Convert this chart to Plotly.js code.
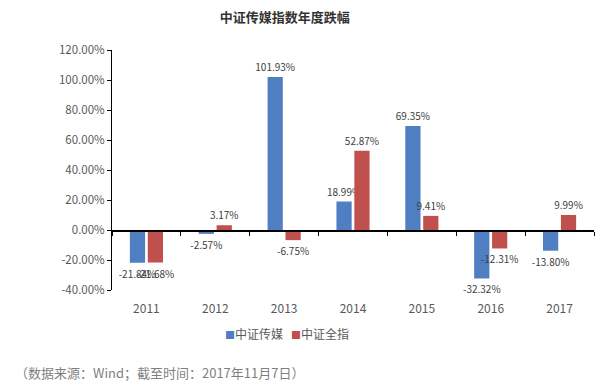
<!DOCTYPE html>
<html>
<head>
<meta charset="utf-8">
<script src="https://cdn.plot.ly/plotly-3.0.1.min.js"></script>
<style>html,body{margin:0;padding:0;background:#fff;}#chart{width:602px;height:391px;}</style>
</head>
<body>
<div id="chart"></div>
<script>
const years = ['2011','2012','2013','2014','2015','2016','2017'];
const mediaIndex = [-21.84, -2.57, 101.93, 18.99, 69.35, -32.32, -13.80];
const allIndex = [-21.68, 3.17, -6.75, 52.87, 9.41, -12.31, 9.99];
const seriesNames = ['中证传媒', '中证全指'];
const seriesColors = ['#4F7EC3', '#C0504D'];
const yTickVals = [-40, -20, 0, 20, 40, 60, 80, 100, 120];
const yTickText = yTickVals.map(v => v.toFixed(2) + '%');
const footnote = '（数据来源：Wind；截至时间：2017年11月7日）';
const chartTitle = '中证传媒指数年度跌幅';

const font = '"Microsoft YaHei", "Noto Sans CJK SC", sans-serif';
const fmt = arr => arr.map(v => v.toFixed(2) + '%');

const traces = [
  {type:'bar', x: years, y: mediaIndex, name: seriesNames[0], showlegend:false,
   marker:{color:seriesColors[0]}, text: fmt(mediaIndex), textposition:'outside', constraintext:'none',
   textfont:{size:10, color:'#404040', family:font}, cliponaxis:false, hoverinfo:'skip'},
  {type:'bar', x: years, y: allIndex, name: seriesNames[1], showlegend:false,
   marker:{color:seriesColors[1]}, text: fmt(allIndex), textposition:'outside', constraintext:'none',
   textfont:{size:10, color:'#404040', family:font}, cliponaxis:false, hoverinfo:'skip'},
  {type:'scatter', x: years, y: years.map(()=>0), xaxis:'x2', yaxis:'y',
   mode:'lines', line:{width:0, color:'rgba(0,0,0,0)'}, showlegend:false, hoverinfo:'skip'}
];

const legendText = seriesNames.map((n, i) =>
  `<span style="color:${seriesColors[i]};font-size:10px">■</span>${n}`).join('&nbsp;&nbsp;&nbsp;');

const layout = {
  width: 602, height: 391,
  paper_bgcolor:'#fff', plot_bgcolor:'#fff',
  margin:{l:112, r:8, t:50, b:101},
  font:{family:font, color:'#595959', size:11},
  title:{text: chartTitle, x:0.473, xanchor:'center', y:0.955, yanchor:'middle',
         font:{size:13, color:'#333', family:font, weight:'bold'}},
  barmode:'group', bargap:0.48, bargroupgap:0.15,
  xaxis:{type:'category', range:[-0.5,6.5], showline:false, showgrid:false, zeroline:false,
         ticks:'outside', ticklen:8, tickcolor:'rgba(0,0,0,0)',
         tickfont:{size:12, color:'#595959'}},
  xaxis2:{type:'category', overlaying:'x', anchor:'free', position:0.25, side:'bottom',
          range:[-0.5,6.5], showline:true, linecolor:'#000', linewidth:1.5,
          ticks:'outside', tickson:'boundaries', ticklen:4, tickcolor:'#000', tickwidth:1,
          showticklabels:false, showgrid:false, zeroline:false},
  yaxis:{range:[-40,120], tickvals:yTickVals, ticktext:yTickText, showgrid:false, zeroline:false,
         showline:true, linecolor:'#000', linewidth:1, ticks:'outside', ticklen:4, tickcolor:'#000',
         tickfont:{size:11.5, color:'#595959'}},
  showlegend:false,
  annotations:[
    {text: legendText, xref:'paper', yref:'paper', x:0.363, xanchor:'center',
     y:-0.18, yanchor:'middle', showarrow:false, font:{size:12, color:'#595959'}},
    {text: footnote, xref:'paper', yref:'paper', x:-0.205, xanchor:'left',
     y:-0.345, yanchor:'middle', showarrow:false, font:{size:13, color:'#7f7f7f'}}]
};

Plotly.newPlot('chart', traces, layout, {displayModeBar:false, staticPlot:true});
</script>
</body>
</html>
